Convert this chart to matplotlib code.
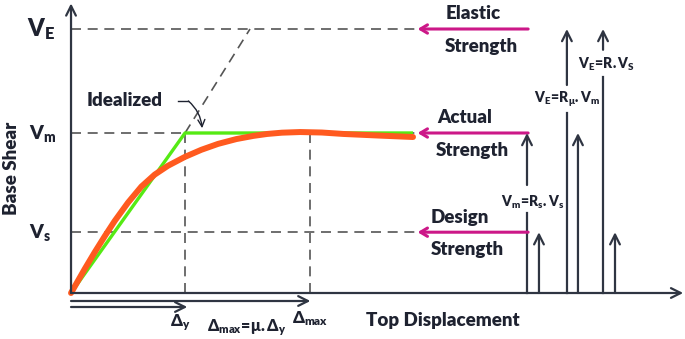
import matplotlib
matplotlib.use("Agg")
import matplotlib.pyplot as plt

# diagram units: displacement in multiples of delta_y, shear in multiples of V_m
delta_y = 1.0
delta_max = 2.1
V_m = 1.0
V_s = 0.38
V_E = 1.65

# actual capacity curve
actual_x = [0.0, 0.12, 0.208, 0.296, 0.383, 0.5, 0.617, 0.734, 0.85, 0.997,
            1.143, 1.29, 1.45, 1.6, 1.72, 1.85, 2.01, 2.2, 2.39, 2.7, 3.0]
actual_y = [0.0, 0.15, 0.255, 0.355, 0.45, 0.565, 0.665, 0.74, 0.795, 0.85,
            0.895, 0.932, 0.962, 0.982, 0.994, 1.002, 1.006, 1.003, 0.994, 0.984, 0.975]

# idealized bilinear curve
ideal_x = [0.0, delta_y, 3.0]
ideal_y = [0.0, V_m, V_m]

# strength levels with their labels
levels = [V_E, V_m, V_s]
level_names = ["E", "m", "s"]
strength_words = ["Elastic", "Actual", "Design"]

# vertical arrows on the right: x position, tip level
varrow_x = [4.0, 4.105, 4.35, 4.447, 4.667, 4.772]
varrow_top = [V_m, V_s, V_E, V_m, V_E, V_s]

ink = "#1e2230"
axcol = "#2f3542"
dash = "#555555"
magenta = "#cc1888"
W = "heavy"

plt.rcParams["font.family"] = ["Lato", "DejaVu Sans"]
plt.rcParams["font.weight"] = W
plt.rcParams["mathtext.fontset"] = "custom"
plt.rcParams["mathtext.rm"] = "Lato:heavy"
plt.rcParams["mathtext.bf"] = "Lato:heavy"
plt.rcParams["mathtext.it"] = "Lato:heavy"

fig = plt.figure(figsize=(6.85, 3.39), dpi=100)
ax = fig.add_axes([0, 0, 1, 1])
ax.set_xlim(-0.623, 5.386)
ax.set_ylim(-0.2875, 1.83125)
ax.axis("off")

head = dict(arrowstyle="->,head_length=0.7,head_width=0.35", color=axcol, lw=1.6,
            shrinkA=0, shrinkB=0)

# main axes
ax.annotate("", xy=(0, 1.81), xytext=(0, 0), arrowprops=head)
ax.annotate("", xy=(5.37, 0), xytext=(0, 0), arrowprops=head)

# dashed guide lines
for lv in levels:
    ax.plot([0, 3.04], [lv, lv], color=dash, lw=1.2, dashes=(6, 4))
for dx in [delta_y, delta_max]:
    ax.plot([dx, dx], [0, V_m], color=dash, lw=1.2, dashes=(6, 4))
ax.plot([delta_y, 1.57], [V_m, V_E], color=dash, lw=1.2, dashes=(6, 4))

# curves
ax.plot(ideal_x, ideal_y, color="#55ea14", lw=2.4, solid_capstyle="butt")
ax.plot(actual_x, actual_y, color="#ff5a1f", lw=4.3, solid_capstyle="round")

# displacement arrows under the axis
ax.annotate("", xy=(delta_max, -0.05), xytext=(0, -0.05), arrowprops=head)
ax.annotate("", xy=(delta_y + 0.02, -0.0875), xytext=(0, -0.0875), arrowprops=head)

# magenta strength arrows and labels
mhead = dict(arrowstyle="->,head_length=0.5,head_width=0.3", color=magenta, lw=2.2,
             shrinkA=0, shrinkB=0)
word_dx = [3.53, 3.45, 3.41]
for lv, word, wx in zip(levels, strength_words, word_dx):
    ax.annotate("", xy=(3.04, lv), xytext=(4.01, lv), arrowprops=mhead)
    ax.text(wx, lv + 0.095, word, ha="center", va="center", fontsize=13.5, color=ink)
    ax.text(wx + 0.07, lv - 0.11, "Strength", ha="center", va="center", fontsize=13.5, color=ink)

# vertical arrows with gaps for the relation labels
gaps = {0: (0.5, 0.675), 2: (1.125, 1.3), 4: (1.35, 1.52)}
for i, (vx, top) in enumerate(zip(varrow_x, varrow_top)):
    if i in gaps:
        lo, hi = gaps[i]
        ax.plot([vx, vx], [0, lo], color=axcol, lw=1.6)
        ax.annotate("", xy=(vx, top), xytext=(vx, hi), arrowprops=head)
    else:
        ax.annotate("", xy=(vx, top), xytext=(vx, 0), arrowprops=head)

ax.text(4.05, 0.57, r"$\mathbf{V_m\!=\!R_s{.}V_s}$", ha="center", va="center", fontsize=10, color=ink)
ax.text(4.35, 1.212, r"$\mathbf{V_E\!=\!R_\mu{.}V_m}$", ha="center", va="center", fontsize=10, color=ink)
ax.text(4.7, 1.43, r"$\mathbf{V_E\!=\!R{.}V_S}$", ha="center", va="center", fontsize=10, color=ink)

# level labels on the y axis
lab_x = [-0.39, -0.37, -0.37]
lab_fs = [17, 14, 14]
for lv, nm, lx, fs in zip(levels, level_names, lab_x, lab_fs):
    ax.text(lx, lv, r"$\mathbf{V_{%s}}$" % nm, ha="left", va="center", fontsize=fs, color=ink)

# idealized label with leader
ax.text(0.47, 1.2, "Idealized", ha="center", va="center", fontsize=13.5, color=ink)
ax.plot([0.94, 1.03], [1.2, 1.2], color=ink, lw=1.0)
ax.annotate("", xy=(1.15, 1.03), xytext=(1.03, 1.2),
            arrowprops=dict(arrowstyle="->,head_length=0.5,head_width=0.25", color=ink, lw=1.0,
                            connectionstyle="arc3,rad=-0.2", shrinkA=0, shrinkB=0))

# axis labels
ax.text(-0.52, (293 - 168) / 160, "Base Shear", rotation=90, ha="center", va="center",
        fontsize=13.5, color=ink)
ax.text(3.26, -0.17, "Top Displacement", ha="center", va="center", fontsize=13.5, color=ink)
ax.text(0.96, -0.185, r"$\mathbf{\Delta_y}$", ha="center", va="center", fontsize=12, color=ink)
ax.text(2.1, -0.16, r"$\mathbf{\Delta_{max}}$", ha="center", va="center", fontsize=12, color=ink)
ax.text(1.54, -0.22, r"$\mathbf{\Delta_{max}\!=\!\mu{.}\Delta_y}$", ha="center", va="center",
        fontsize=11.5, color=ink)

fig.savefig("out.png", dpi=100)
